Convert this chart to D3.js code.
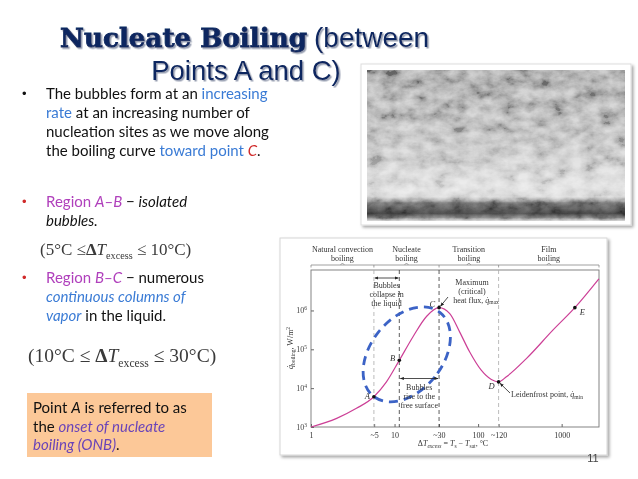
<!DOCTYPE html>
<html>
<head>
<meta charset="utf-8">
<script src="https://cdn.jsdelivr.net/npm/d3@7"></script>
<style>
  body { margin: 0; background: #fff; }
  svg { display: block; }
</style>
</head>
<body>
<svg id="slide" width="638" height="479"></svg>
<script>
// boiling curve (dT in C, q in W/m2)
const dT    = [1, 2.03, 3.5, 5.66, 8.0, 11.4, 16.7, 24.1, 34.1, 45.8, 60.3, 79.4, 109, 144, 176, 218, 378, 785, 1440, 2790];
const qFlux = [1000, 1670, 3020, 6000, 14500, 52000, 214000, 700000, 1180000, 830000, 277000, 85000, 29000, 16700, 14500, 19600, 57600, 311000, 1180000, 6500000];

const pointNames = ["A", "B", "C", "D", "E"];
const pointT     = [5.66, 11.4, 34.1, 176, 1440];
const pointQ     = [6000, 52000, 1180000, 14500, 1180000];

const regionEdges = [1, 5.66, 34.1, 176, 2800];
const regionNames = [["Natural convection", "boiling"], ["Nucleate", "boiling"], ["Transition", "boiling"], ["Film", "boiling"]];

const xTickValues = [1, 5.7, 10, 34, 100, 176, 1000];
const xTickLabels = ["1", "~5", "10", "~30", "100", "~120", "1000"];
const yTickValues = [1e3, 1e4, 1e5, 1e6];
const yTickPowers = ["3", "4", "5", "6"];

const svg = d3.select("#slide");
const defs = svg.append("defs");

// ---------- filters ----------
let sh = defs.append("filter").attr("id", "shadow").attr("x", "-5%").attr("y", "-5%").attr("width", "115%").attr("height", "115%");
sh.append("feDropShadow").attr("dx", 2).attr("dy", 2).attr("stdDeviation", 1.6).attr("flood-color", "#000").attr("flood-opacity", 0.35);

let tsh = defs.append("filter").attr("id", "tshadow");
tsh.append("feDropShadow").attr("dx", 1.5).attr("dy", 1.5).attr("stdDeviation", 0.4).attr("flood-color", "#8a93a8").attr("flood-opacity", 0.9);

// photo texture (just a filter, no data)
let nz = defs.append("filter").attr("id", "noise").attr("x", 0).attr("y", 0).attr("width", 1).attr("height", 1);
nz.append("feTurbulence").attr("type", "fractalNoise").attr("baseFrequency", "0.06 0.09").attr("numOctaves", 4).attr("seed", 11);
nz.append("feColorMatrix").attr("type", "saturate").attr("values", 0);
nz.append("feComponentTransfer").html('<feFuncR type="linear" slope="2.2" intercept="-0.6"/><feFuncG type="linear" slope="2.2" intercept="-0.6"/><feFuncB type="linear" slope="2.2" intercept="-0.6"/><feFuncA type="linear" slope="0" intercept="1"/>');

let pg = defs.append("linearGradient").attr("id", "photoGrad").attr("x1", 0).attr("y1", 0).attr("x2", 0).attr("y2", 1);
[[0, "#9a9a9a"], [0.3, "#aaaaaa"], [0.6, "#c0c0c0"], [0.78, "#dadada"], [0.84, "#d0d0d0"], [0.88, "#606060"], [0.95, "#3c3c3c"], [0.98, "#6a6a6a"], [1, "#cfcfcf"]]
  .forEach(s => pg.append("stop").attr("offset", s[0]).attr("stop-color", s[1]));

let ah = defs.append("marker").attr("id", "arr").attr("viewBox", "0 0 10 10").attr("refX", 9).attr("refY", 5)
  .attr("markerWidth", 5).attr("markerHeight", 5).attr("orient", "auto-start-reverse");
ah.append("path").attr("d", "M0,1 L10,5 L0,9 z").attr("fill", "#222");

// ---------- title ----------
svg.append("text").attr("x", 60).attr("y", 47).attr("font-family", "DejaVu Serif").attr("font-weight", "bold")
  .attr("font-size", 26).attr("fill", "#0c2860").attr("stroke", "#0c2860").attr("stroke-width", 0.8)
  .attr("textLength", 247).attr("lengthAdjust", "spacingAndGlyphs").attr("filter", "url(#tshadow)")
  .text("Nucleate Boiling");
svg.append("text").attr("x", 314).attr("y", 47).attr("font-family", "Liberation Sans").attr("font-size", 28)
  .attr("fill", "#0c2860").attr("filter", "url(#tshadow)").text("(between");
svg.append("text").attr("x", 246).attr("y", 80).attr("text-anchor", "middle").attr("font-family", "Liberation Sans")
  .attr("font-size", 27.5).attr("fill", "#0c2860").attr("filter", "url(#tshadow)").text("Points A and C)");

// ---------- left text ----------
const BLUE = "#3a7bd5", MAG = "#b040bc", RED = "#d02a2a", PUR = "#6a44b8", INK = "#111";

function textLine(x, y, segs, size, family) {
  let t = svg.append("text").attr("x", x).attr("y", y).attr("font-family", family || "Lato")
    .attr("font-size", size || 15).attr("xml:space", "preserve");
  segs.forEach(s => {
    t.append("tspan").attr("fill", s[1] || INK).attr("font-style", s[2] ? "italic" : "normal").text(s[0]);
  });
  return t;
}
function bullet(y, color) {
  svg.append("text").attr("x", 22).attr("y", y).attr("font-family", "Liberation Sans").attr("font-size", 13)
    .attr("fill", color).text("•");
}

bullet(98, "#111");
textLine(46, 99, [["The bubbles form at an "], ["increasing", BLUE]]);
textLine(46, 118, [["rate", BLUE], [" at an increasing number of"]]);
textLine(46, 137, [["nucleation sites as we move along"]]);
textLine(46, 156, [["the boiling curve "], ["toward point ", BLUE], ["C", RED, true], ["."]]);

bullet(206, RED);
textLine(46, 207, [["Region ", MAG], ["A", MAG, true], ["–", MAG], ["B", MAG, true], [" − "], ["isolated", INK, true]]);
textLine(46, 226, [["bubbles.", INK, true]]);

function formula(x, y, size, a, b, gap) {
  let t = svg.append("text").attr("x", x).attr("y", y).attr("font-family", "Liberation Serif")
    .attr("font-size", size).attr("fill", "#3a3a3a").attr("xml:space", "preserve");
  t.append("tspan").text("(" + a + "°C ≤" + gap);
  t.append("tspan").attr("font-weight", "bold").text("Δ");
  t.append("tspan").attr("font-style", "italic").text("T");
  t.append("tspan").attr("font-size", size * 0.6).attr("dy", size * 0.25).text("excess");
  t.append("tspan").attr("dy", -size * 0.25).text(" ≤ " + b + "°C)");
}
formula(40, 255, 17, "5", "10", "");

bullet(282, RED);
textLine(46, 283, [["Region ", MAG], ["B", MAG, true], ["–", MAG], ["C", MAG, true], [" − numerous"]]);
textLine(46, 302, [["continuous columns of", BLUE, true]]);
textLine(46, 321, [["vapor", BLUE, true], [" in the liquid."]]);

formula(28, 362, 19.5, "10", "30", " ");

svg.append("rect").attr("x", 27).attr("y", 393).attr("width", 185).attr("height", 64).attr("fill", "#fcc898");
textLine(33, 413, [["Point "], ["A", INK, true], [" is referred to as"]]);
textLine(33, 431.5, [["the "], ["onset of nucleate", PUR, true]]);
textLine(33, 450, [["boiling (ONB)", PUR, true], ["."]]);

// ---------- photo ----------
svg.append("rect").attr("x", 361).attr("y", 64).attr("width", 270).attr("height", 161).attr("fill", "#fff")
  .attr("stroke", "#ddd").attr("filter", "url(#shadow)");
svg.append("rect").attr("x", 367).attr("y", 70).attr("width", 258).attr("height", 151).attr("fill", "url(#photoGrad)");
svg.append("rect").attr("x", 367).attr("y", 70).attr("width", 258).attr("height", 151).attr("filter", "url(#noise)")
  .attr("opacity", 0.55).style("mix-blend-mode", "overlay");

// ---------- chart panel ----------
svg.append("rect").attr("x", 280).attr("y", 238).attr("width", 327).attr("height", 217).attr("fill", "#fff")
  .attr("stroke", "#d6d6d6").attr("filter", "url(#shadow)");

const plot = {left: 311, right: 599, top: 270, bottom: 427};
let x = d3.scaleLog().domain([1, 2800]).range([plot.left, plot.right]);
let y = d3.scaleLog().domain([1e3, 1.1e7]).range([plot.bottom, plot.top]);

let g = svg.append("g").attr("font-family", "Liberation Serif").attr("fill", "#333");

// region brackets above plot
const bracketY = 265;
g.append("line").attr("x1", x(regionEdges[0])).attr("x2", x(regionEdges[4])).attr("y1", bracketY).attr("y2", bracketY)
  .attr("stroke", "#888").attr("stroke-width", 0.8);
regionEdges.forEach(e => {
  g.append("line").attr("x1", x(e)).attr("x2", x(e)).attr("y1", bracketY).attr("y2", bracketY + 2.5)
    .attr("stroke", "#888").attr("stroke-width", 0.8);
});
regionNames.forEach((nm, i) => {
  let cx = (x(regionEdges[i]) + x(regionEdges[i + 1])) / 2;
  g.append("path").attr("d", `M${cx - 2},${bracketY} L${cx},${bracketY - 2} L${cx + 2},${bracketY}`)
    .attr("fill", "none").attr("stroke", "#888").attr("stroke-width", 0.8);
  nm.forEach((s, k) => {
    g.append("text").attr("x", cx).attr("y", 251.5 + k * 9).attr("text-anchor", "middle")
      .attr("font-size", 8).attr("fill", "#333").text(s);
  });
});

// plot frame
g.append("rect").attr("x", plot.left).attr("y", plot.top).attr("width", plot.right - plot.left)
  .attr("height", plot.bottom - plot.top).attr("fill", "none").attr("stroke", "#777").attr("stroke-width", 0.9);

// axes
let xAxis = g.append("g").attr("transform", "translate(0," + plot.bottom + ")")
  .call(d3.axisBottom(x).tickValues(xTickValues).tickFormat((d, i) => xTickLabels[i]).tickSize(-3).tickPadding(5));
xAxis.select(".domain").remove();
xAxis.selectAll("line").attr("stroke", "#666");
xAxis.selectAll("text").attr("font-family", "Liberation Serif").attr("font-size", 8).attr("fill", "#333");

let yAxis = g.append("g").attr("transform", "translate(" + plot.left + ",0)")
  .call(d3.axisLeft(y).tickValues(yTickValues).tickFormat(() => "").tickSize(-3));
yAxis.select(".domain").remove();
yAxis.selectAll("line").attr("stroke", "#666");
yAxis.selectAll(".tick").each(function(d, i) {
  let t = d3.select(this).append("text").attr("x", -4).attr("dy", "0.3em").attr("text-anchor", "end")
    .attr("font-family", "Liberation Serif").attr("font-size", 8).attr("fill", "#444");
  t.append("tspan").text("10");
  t.append("tspan").attr("font-size", 5.5).attr("dy", -3).text(yTickPowers[i]);
});

// axis titles
let xt = g.append("text").attr("x", 453).attr("y", 446).attr("text-anchor", "middle").attr("font-size", 8);
xt.append("tspan").text("Δ");
xt.append("tspan").attr("font-style", "italic").text("T");
xt.append("tspan").attr("font-size", 5.5).attr("dy", 2).attr("font-style", "italic").text("excess");
xt.append("tspan").attr("dy", -2).text(" = ");
xt.append("tspan").attr("font-style", "italic").text("T");
xt.append("tspan").attr("font-size", 5.5).attr("dy", 2).text("s");
xt.append("tspan").attr("dy", -2).text(" − ");
xt.append("tspan").attr("font-style", "italic").text("T");
xt.append("tspan").attr("font-size", 5.5).attr("dy", 2).text("sat");
xt.append("tspan").attr("dy", -2).text(", °C");

let yt = g.append("text").attr("transform", "translate(293,348) rotate(-90)").attr("text-anchor", "middle").attr("font-size", 8);
yt.append("tspan").attr("font-style", "italic").text("q\u0307");
yt.append("tspan").attr("font-size", 5.5).attr("dy", 2).text("boiling");
yt.append("tspan").attr("dy", -2).text(", W/m");
yt.append("tspan").attr("font-size", 5.5).attr("dy", -3).text("2");

// dashed boundary lines at A, B, C, D
[[pointT[0], "#aaa"], [pointT[1], "#333"], [pointT[2], "#333"], [pointT[3], "#aaa"]].forEach(v => {
  g.append("line").attr("x1", x(v[0])).attr("x2", x(v[0])).attr("y1", plot.top).attr("y2", plot.bottom)
    .attr("stroke", v[1]).attr("stroke-width", 0.8).attr("stroke-dasharray", "4,3");
});

// boiling curve
let line = d3.line().x((d, i) => x(dT[i])).y((d, i) => y(qFlux[i])).curve(d3.curveMonotoneX);
g.append("path").datum(dT).attr("d", line).attr("fill", "none").attr("stroke", "#cc3f96").attr("stroke-width", 1.2);

// blue dashed ellipse around nucleate region
let ec = [x(14.0), y(74000)];
g.append("ellipse").attr("cx", 0).attr("cy", 0).attr("rx", 36).attr("ry", 53.5)
  .attr("transform", "translate(" + ec[0] + "," + ec[1] + ") rotate(38.6)")
  .attr("fill", "none").attr("stroke", "#3c63c6").attr("stroke-width", 2.8).attr("stroke-dasharray", "9,6");

// key points
const labelOff = [[-4, 2, "end"], [-4, 1, "end"], [-4, -1, "end"], [-4, 7, "end"], [5, 7, "start"]];
pointNames.forEach((p, i) => {
  g.append("circle").attr("cx", x(pointT[i])).attr("cy", y(pointQ[i])).attr("r", 1.8).attr("fill", "#111");
  g.append("text").attr("x", x(pointT[i]) + labelOff[i][0]).attr("y", y(pointQ[i]) + labelOff[i][1])
    .attr("text-anchor", labelOff[i][2]).attr("font-style", "italic").attr("font-size", 8.5).text(p);
});

// annotations
function dbl(x1, x2, yy) {
  g.append("line").attr("x1", x1 + 1).attr("x2", x2 - 1).attr("y1", yy).attr("y2", yy).attr("stroke", "#222")
    .attr("stroke-width", 0.8).attr("marker-start", "url(#arr)").attr("marker-end", "url(#arr)");
}
function lines(cx, y0, arr, anchor) {
  arr.forEach((s, k) => g.append("text").attr("x", cx).attr("y", y0 + k * 9).attr("text-anchor", anchor || "middle")
    .attr("font-size", 8).text(s));
}
dbl(x(pointT[0]), x(pointT[1]), 278);
lines((x(pointT[0]) + x(pointT[1])) / 2, 288, ["Bubbles", "collapse in", "the liquid"]);
dbl(x(pointT[1]), x(pointT[2]), 378.5);
lines((x(pointT[1]) + x(pointT[2])) / 2, 390, ["Bubbles", "rise to the", "free surface"]);

lines(472, 284.5, ["Maximum", "(critical)"]);
let hf = g.append("text").attr("x", 476).attr("y", 302.5).attr("text-anchor", "middle").attr("font-size", 8);
hf.append("tspan").text("heat flux, ");
hf.append("tspan").attr("font-style", "italic").text("q\u0307");
hf.append("tspan").attr("font-size", 5.5).attr("dy", 1.5).text("max");
g.append("line").attr("x1", 448).attr("y1", 297).attr("x2", x(pointT[2]) + 1.5).attr("y2", y(pointQ[2]) - 1.5)
  .attr("stroke", "#222").attr("stroke-width", 0.8).attr("marker-end", "url(#arr)");

let lf = g.append("text").attr("x", 511).attr("y", 397).attr("font-size", 8);
lf.append("tspan").text("Leidenfrost point, ");
lf.append("tspan").attr("font-style", "italic").text("q\u0307");
lf.append("tspan").attr("font-size", 5.5).attr("dy", 1.5).text("min");
g.append("line").attr("x1", 510).attr("y1", 393).attr("x2", x(pointT[3]) + 1.5).attr("y2", y(pointQ[3]) + 1.5)
  .attr("stroke", "#222").attr("stroke-width", 0.8).attr("marker-end", "url(#arr)");

// slide number
svg.append("text").attr("x", 593).attr("y", 462).attr("text-anchor", "middle").attr("font-family", "Liberation Sans")
  .attr("font-size", 11).attr("fill", "#444").text("11");
</script>
</body>
</html>
